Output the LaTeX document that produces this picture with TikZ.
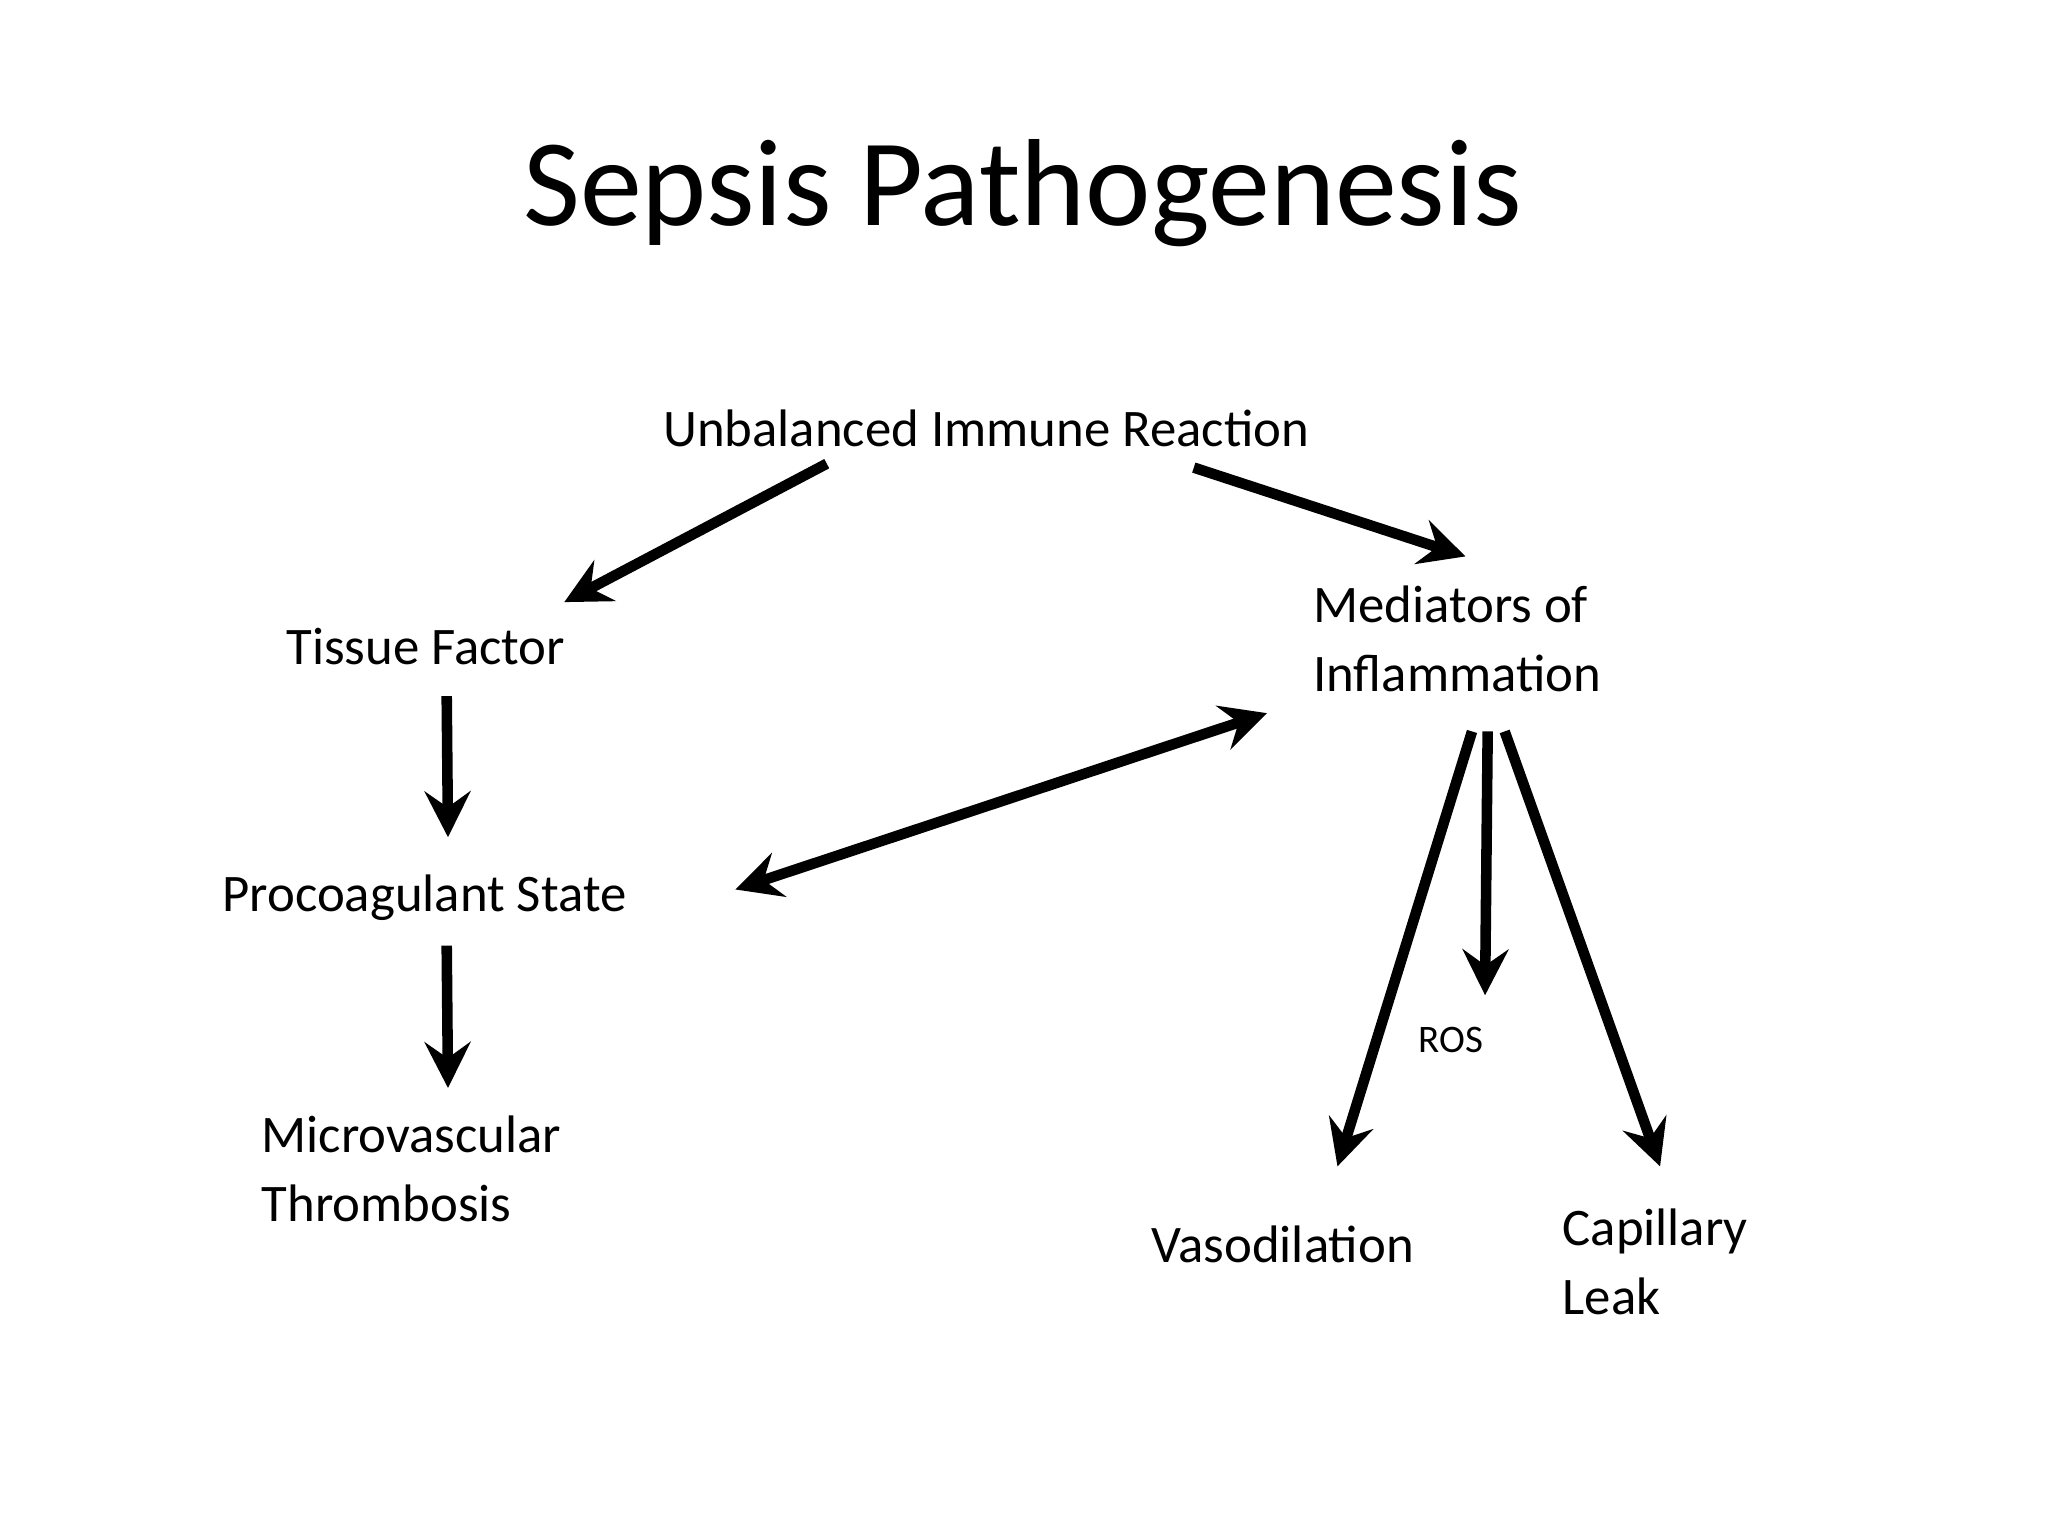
\documentclass[tikz,border=0pt]{standalone}
\usepackage{fontspec}
\setmainfont{Carlito}
\usetikzlibrary{arrows.meta}
\begin{document}
\begin{tikzpicture}[x=0.02cm,y=-0.02cm,
  lbl/.style={font=\fontsize{23}{30}\selectfont,inner sep=0pt},
  llbl/.style={lbl,align=left,anchor=west},
  arr/.style={line width=4.6pt,-{Stealth[length=20pt,width=20pt,inset=7pt]}},
  darr/.style={line width=4.6pt,{Stealth[length=20pt,width=20pt,inset=7pt]}-{Stealth[length=20pt,width=20pt,inset=7pt]}}]
\useasboundingbox (0,0) rectangle (1568,1176);
\node[inner sep=0pt,font=\fontsize{54}{60}\selectfont] (title) at (783,148) {Sepsis Pathogenesis};
\node[lbl] (uir) at (755,328) {Unbalanced Immune Reaction};
\node[lbl] (tf) at (326,495) {Tissue Factor};
\node[llbl] (med) at (1005,489) {Mediators of\\Inflammation};
\node[lbl] (pro) at (325,687) {Procoagulant State};
\node[llbl] (mic) at (200,895) {Microvascular\\Thrombosis};
\node[inner sep=0pt,font=\fontsize{17}{20}\selectfont] (ros) at (1111,796) {ROS};
\node[lbl] (vas) at (982,953) {Vasodilation};
\node[llbl] (cap) at (1196,966) {Capillary\\Leak};
\coordinate (a1s) at (633,355); \coordinate (a1e) at (432,461);
\coordinate (a2s) at (914,358); \coordinate (a2e) at (1122,426);
\coordinate (a3s) at (342,533); \coordinate (a3e) at (343,641);
\coordinate (a4s) at (342,724); \coordinate (a4e) at (343,833);
\coordinate (a5s) at (563,681); \coordinate (a5e) at (970,546);
\coordinate (a6s) at (1127,560); \coordinate (a6e) at (1024,893);
\coordinate (a7s) at (1139,560); \coordinate (a7e) at (1137,762);
\coordinate (a8s) at (1152,560); \coordinate (a8e) at (1271,893);
\draw[arr] (a1s) -- (a1e);
\draw[arr] (a2s) -- (a2e);
\draw[arr] (a3s) -- (a3e);
\draw[arr] (a4s) -- (a4e);
\draw[darr] (a5s) -- (a5e);
\draw[arr] (a6s) -- (a6e);
\draw[arr] (a7s) -- (a7e);
\draw[arr] (a8s) -- (a8e);
\end{tikzpicture}
\end{document}
